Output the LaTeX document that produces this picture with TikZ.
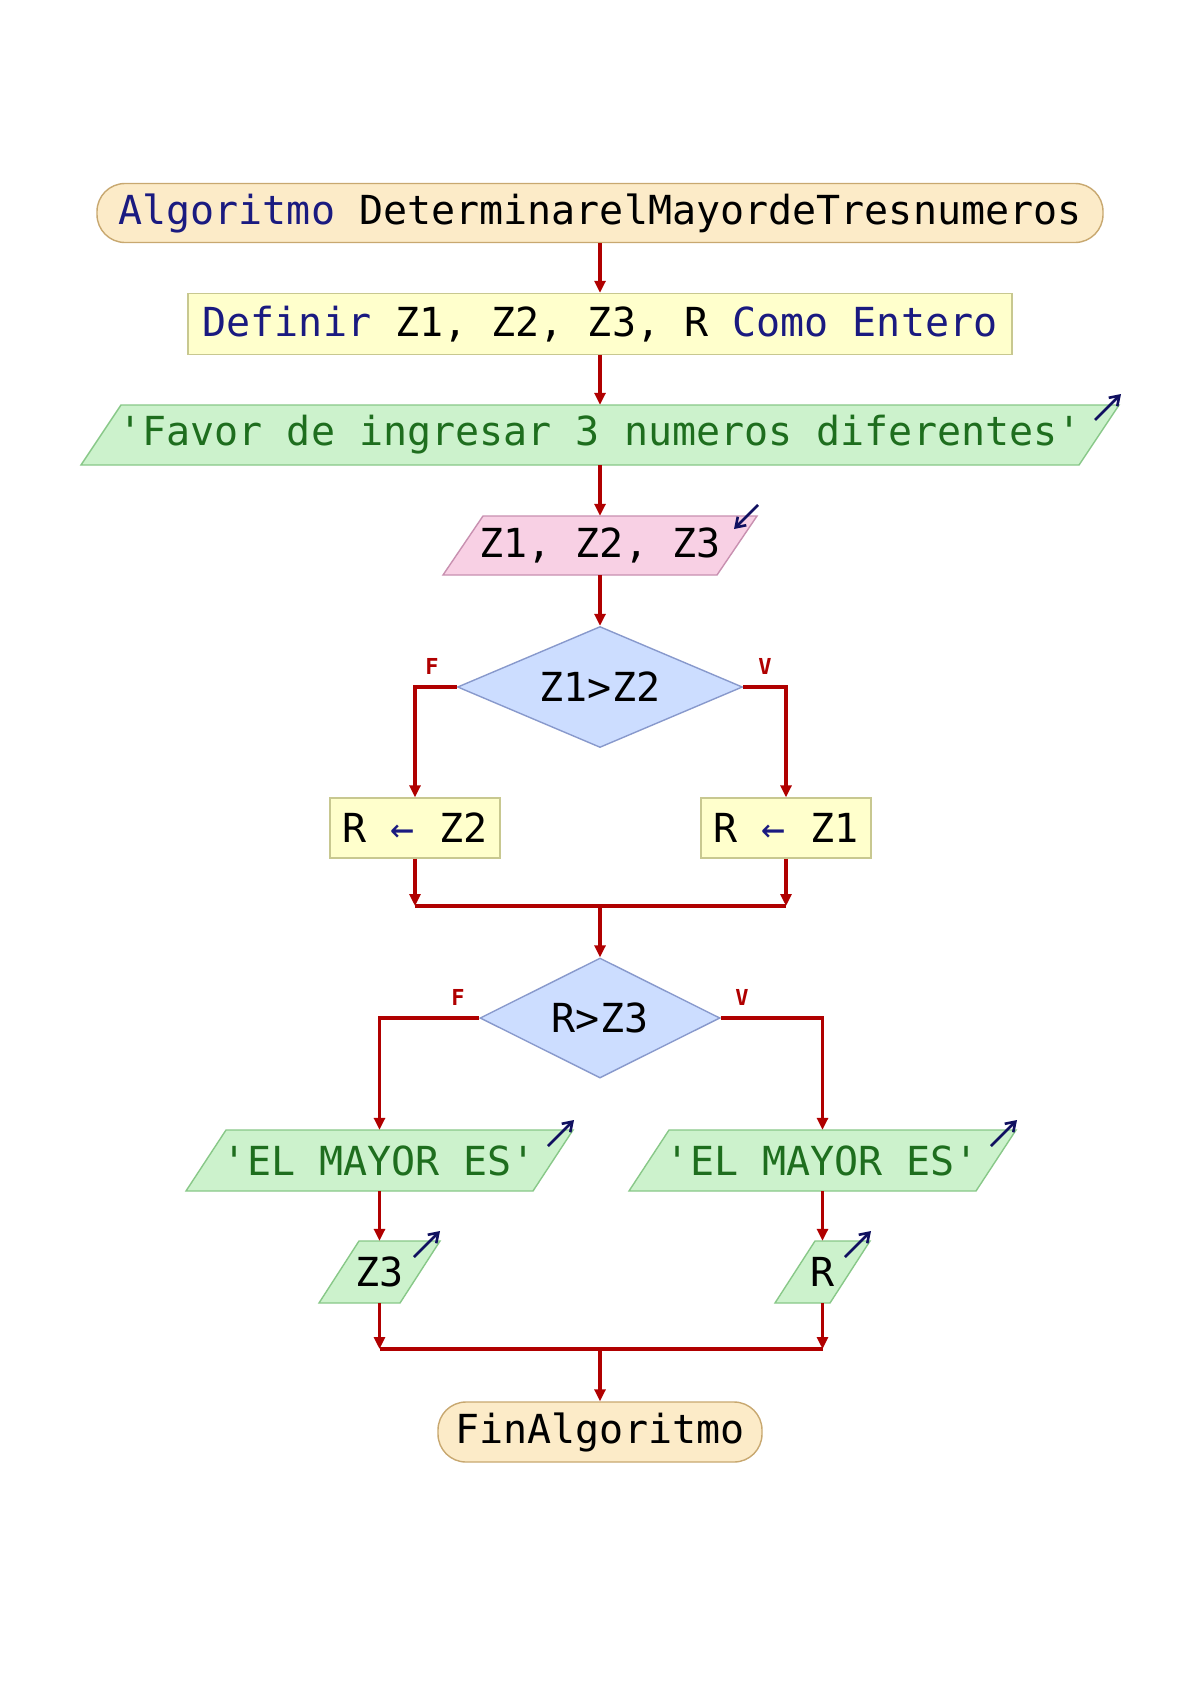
\documentclass[tikz,border=0pt]{standalone}
\usepackage{fontspec}
\setmonofont{DejaVu Sans Mono}
\usetikzlibrary{arrows.meta,shapes.geometric}
\definecolor{arr}{HTML}{B00000}
\definecolor{kw}{HTML}{1A1A80}
\definecolor{str}{HTML}{1E6E1E}
\definecolor{termF}{HTML}{FCEBC8}\definecolor{termD}{HTML}{C8A870}
\definecolor{procF}{HTML}{FFFFCC}\definecolor{procD}{HTML}{C8C890}
\definecolor{outF}{HTML}{CCF2CC}\definecolor{outD}{HTML}{88C888}
\definecolor{inF}{HTML}{F8D0E4}\definecolor{inD}{HTML}{C890B0}
\definecolor{decF}{HTML}{CCDDFF}\definecolor{decD}{HTML}{8899CC}
\definecolor{ico}{HTML}{101060}
\tikzset{
  txt/.style={font=\ttfamily\fontsize{40}{42}\selectfont, inner sep=0pt},
  flow/.style={draw=arr, line width=3.2pt, -{Triangle[length=12pt,width=11pt]}},
  seg/.style={draw=arr, line width=3.2pt},
  lab/.style={font=\ttfamily\bfseries\fontsize{22}{24}\selectfont, text=arr, inner sep=0pt},
  icon/.style={draw=ico, line width=2.6pt, -{Straight Barb[length=9pt,width=12pt]}},
}
\newcommand{\paraShape}[8]{%
  \fill[#6] (#2+40,#4) -- (#3,#4) -- (#3-40,#5) -- (#2,#5) -- cycle;
  \draw[#7, line width=1.4pt] (#2+40,#4) -- (#3,#4) -- (#3-40,#5) -- (#2,#5) -- cycle;
  \node[txt, minimum width={#3-#2}, minimum height={#5-#4}] (#1) at ({(#2+#3)/2},{(#4+#5)/2}) {#8};
}
\begin{document}
\begin{tikzpicture}[x=1pt,y=-1pt]
\useasboundingbox[fill=white] (0,0) rectangle (1200,1697);
\node[txt, draw=termD, fill=termF, line width=1.4pt, rounded corners=28pt, minimum width=1006pt, minimum height=59pt] (t) at (600,213) {\textcolor{kw}{Algoritmo} DeterminarelMayordeTresnumeros};
\node[txt, draw=procD, fill=procF, line width=1.4pt, minimum width=824pt, minimum height=61pt] (d) at (600,324) {\textcolor{kw}{Definir} Z1, Z2, Z3, R \textcolor{kw}{Como Entero}};
\paraShape{o1}{81}{1119}{405}{465}{outF}{outD}{\textcolor{str}{'Favor de ingresar 3 numeros diferentes'}}
\draw[icon] (1095,420) -- (1121,394);
\paraShape{i1}{443}{757}{516}{575}{inF}{inD}{Z1, Z2, Z3}
\draw[icon] (758,505) -- (734,529);
\node[txt, diamond, aspect=2.35, draw=decD, fill=decF, line width=1.4pt, minimum width=285pt, minimum height=121pt, inner sep=0pt] (c1) at (600,687) {Z1>Z2};
\node[txt, draw=procD, fill=procF, line width=1.4pt, minimum width=170pt, minimum height=60pt] (a2) at (415,828) {R \textcolor{kw}{←} Z2};
\node[txt, draw=procD, fill=procF, line width=1.4pt, minimum width=170pt, minimum height=60pt] (a1) at (786,828) {R \textcolor{kw}{←} Z1};
\coordinate (m1) at (600,906);
\node[txt, diamond, aspect=2, draw=decD, fill=decF, line width=1.4pt, minimum width=240pt, minimum height=120pt, inner sep=0pt] (c2) at (600,1018) {R>Z3};
\paraShape{oL}{186}{573}{1130}{1191}{outF}{outD}{\textcolor{str}{'EL MAYOR ES'}}
\draw[icon] (548,1146) -- (574,1120);
\paraShape{oR}{629}{1016}{1130}{1191}{outF}{outD}{\textcolor{str}{'EL MAYOR ES'}}
\draw[icon] (991,1146) -- (1017,1120);
\paraShape{zL}{319}{440}{1241}{1303}{outF}{outD}{Z3}
\draw[icon] (414,1257) -- (440,1231);
\paraShape{zR}{775}{870}{1241}{1303}{outF}{outD}{R}
\draw[icon] (845,1257) -- (871,1231);
\coordinate (m2) at (600,1349);
\node[txt, draw=termD, fill=termF, line width=1.4pt, rounded corners=28pt, minimum width=324pt, minimum height=60pt] (f) at (600,1432) {FinAlgoritmo};
\draw[flow] (t.south) -- (d.north);
\draw[flow] (d.south) -- (o1.north);
\draw[flow] (o1.south) -- (i1.north);
\draw[flow] (i1.south) -- (c1.north);
\draw[flow] (c1.west) -| (a2.north);
\draw[flow] (c1.east) -| (a1.north);
\node[lab] at (432,666) {F};
\node[lab] at (765,666) {V};
\draw[flow] (a2.south) -- (a2.south |- m1);
\draw[flow] (a1.south) -- (a1.south |- m1);
\draw[seg] (a2.south |- m1) -- (a1.south |- m1);
\draw[flow] (m1) -- (c2.north);
\draw[flow] (c2.west) -| (oL.north);
\draw[flow] (c2.east) -| (oR.north);
\node[lab] at (458,997) {F};
\node[lab] at (742,997) {V};
\draw[flow] (oL.south) -- (zL.north);
\draw[flow] (oR.south) -- (zR.north);
\draw[flow] (zL.south) -- (zL.south |- m2);
\draw[flow] (zR.south) -- (zR.south |- m2);
\draw[seg] (zL.south |- m2) -- (zR.south |- m2);
\draw[flow] (m2) -- (f.north);
\end{tikzpicture}
\end{document}
